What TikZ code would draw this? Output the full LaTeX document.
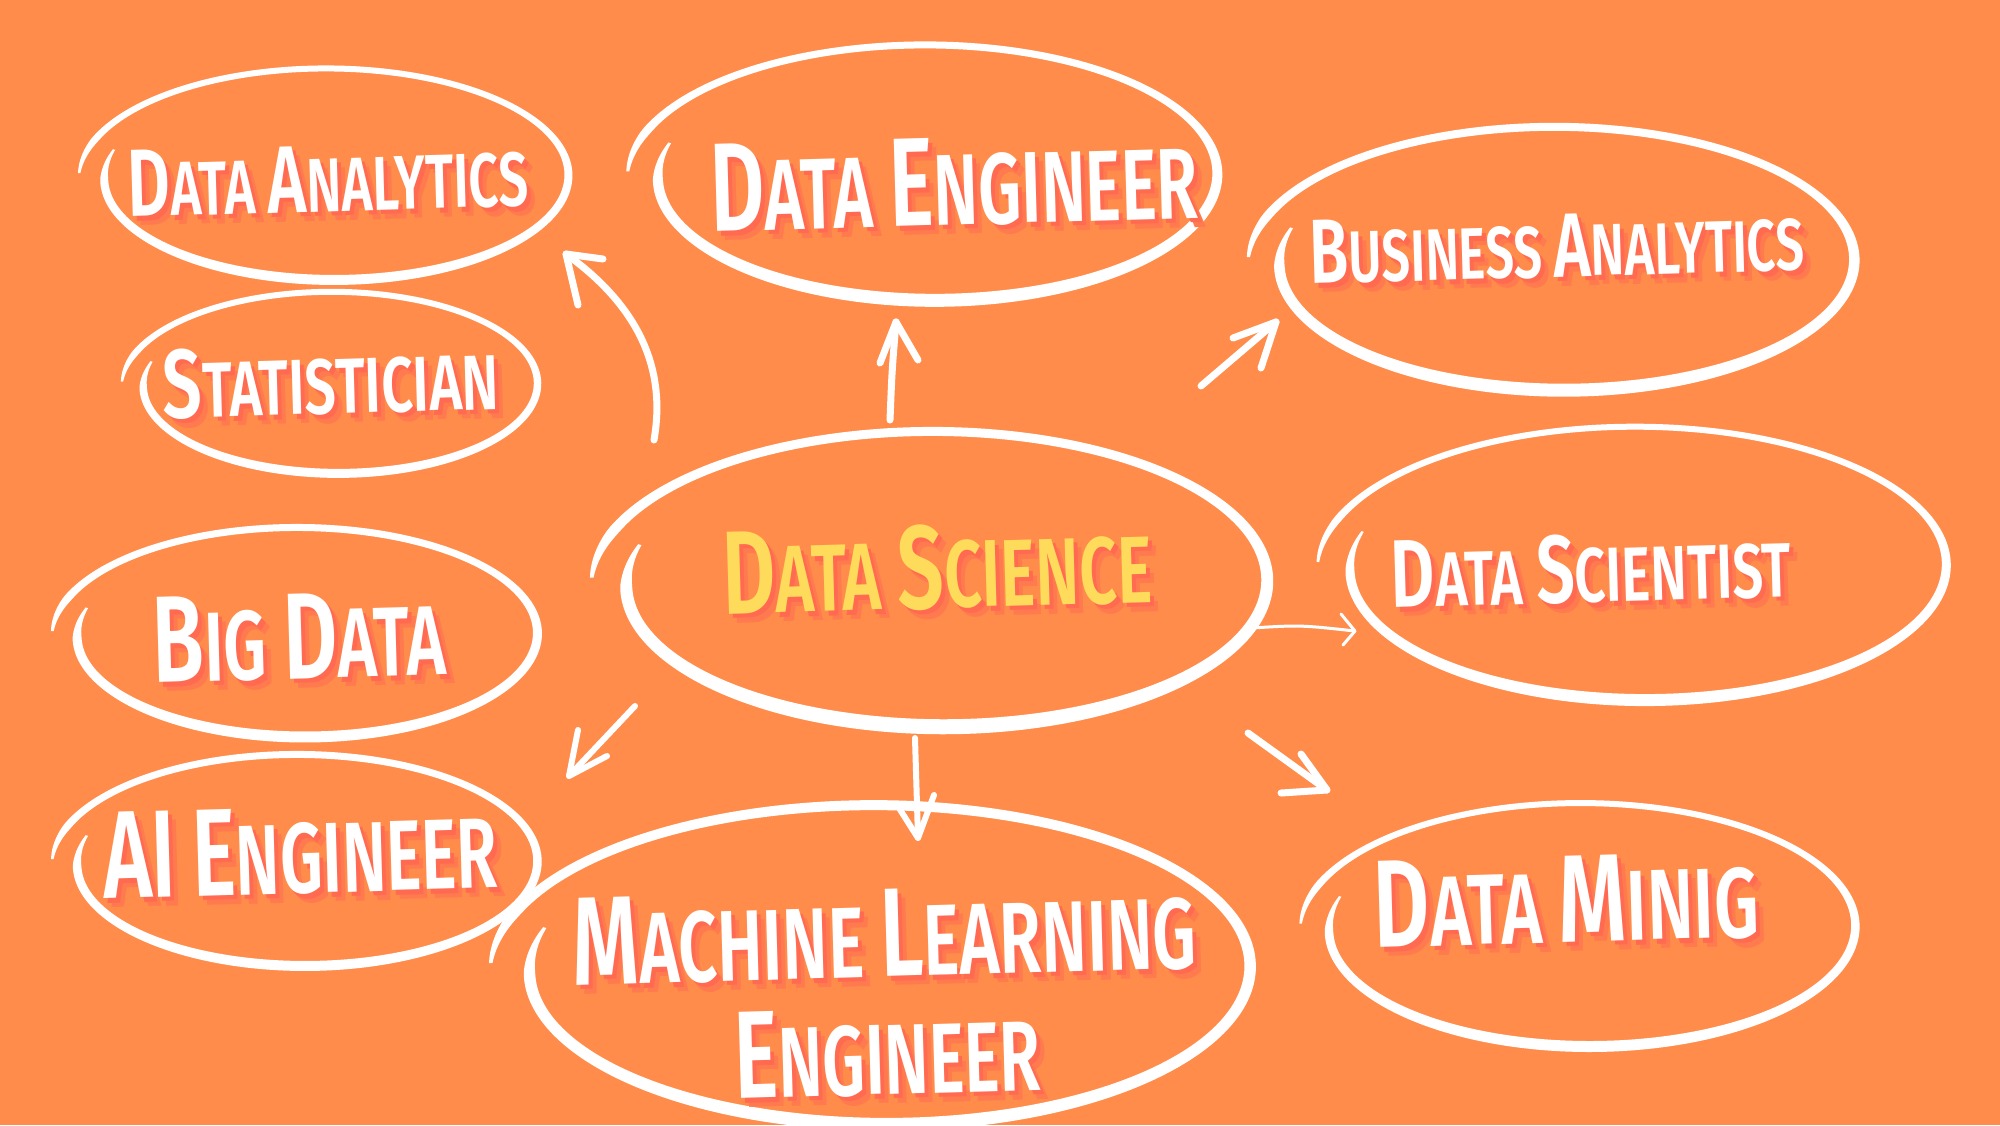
\documentclass[tikz,border=0pt]{standalone}
\usepackage{fontspec}
\setmainfont{Fira Sans}
\newfontfamily\lblfont{Fira Sans SemiBold}
\usepackage{graphicx}
\definecolor{bg}{RGB}{255,140,75}
\definecolor{ylw}{RGB}{255,219,92}
\definecolor{shA}{RGB}{255,106,80}
\definecolor{shB}{RGB}{255,122,78}
\newcommand\B[1]{{\fontsize{10}{12}\selectfont #1}}
% name, x, y, width, height, content, colour
\newcommand\lab[7]{%
  \node[txt,text=shB] (#1-s2) at ({#2+8},{#3+9}) {\resizebox{#4pt}{#5pt}{\lblfont\fontsize{8}{10}\selectfont #6}};
  \node[txt,text=shA] (#1-s1) at ({#2+4},{#3+4.5}) {\resizebox{#4pt}{#5pt}{\lblfont\fontsize{8}{10}\selectfont #6}};
  \node[txt,text=#7] (#1) at (#2,#3) {\resizebox{#4pt}{#5pt}{\lblfont\fontsize{8}{10}\selectfont #6}};}
% hand drawn ellipse: cx, cy, rx, ry, top width, bottom width
\newcommand\hell[6]{%
  \fill[white] plot[domain=196:-178,samples=160,smooth,variable=\t]
   ({#1+(#3*rf(\t)+hw(\t,#5,#6))*cos(\t)},{#2+(#4*rf(\t)+hw(\t,#5,#6))*sin(\t)})
   -- plot[domain=-178:196,samples=160,smooth,variable=\t]
   ({#1+(#3*rf(\t)-hw(\t,#5,#6))*cos(\t)},{#2+(#4*rf(\t)-hw(\t,#5,#6))*sin(\t)}) -- cycle;}
\begin{document}
\begin{tikzpicture}[x=1pt,y=-1pt,
  declare function={rf(\t)=0.94+0.11*(196-\t)/374;
    hw(\t,\a,\b)=0.5*(\a+(\b-\a)*(1+sin(\t))/2)*min(1,0.3+(196-\t)/25,0.3+(\t+178)/25);},
  txt/.style={inner sep=0pt,outer sep=0pt,rotate=1.6},
  arr/.style={draw=white,line width=7pt,line cap=round,line join=round},
  thinarr/.style={draw=white,line width=3pt,line cap=round,line join=round}]
\useasboundingbox (0,0) rectangle (2000,1125);
\fill[bg] (0,0) rectangle (2000,1125);

% ellipses
\hell{330}{177}{239}{106}{6}{10}   % Data Analytics
\hell{930}{176}{288}{128}{7}{13}   % Data Engineer
\hell{335}{385}{203}{91}{6}{9}     % Statistician
\hell{1559}{262}{296}{132}{8}{13}  % Business Analytics
\hell{938}{583}{330}{148}{9}{15}   % Data Science
\hell{301}{635}{237}{105}{7}{11}   % Big Data
\hell{301}{863}{237}{106}{7}{10}   % AI Engineer
\hell{880}{969}{371}{160}{10}{13}  % Machine Learning Engineer
\hell{1640}{567}{307}{137}{6}{12}  % Data Scientist
\hell{1585}{928}{271}{122}{6}{11}  % Data Minig

% connectors
\coordinate (a1s) at (654,440); \coordinate (a1t) at (566,254);
\coordinate (a1b) at (578,305); \coordinate (a1c) at (603,259);
\draw[arr] (a1s) .. controls (668,360) and (630,300) .. (a1t);
\draw[arr] (a1b) -- (a1t) -- (a1c);

\coordinate (a2s) at (890,420); \coordinate (a2t) at (896,322);
\coordinate (a2b) at (880,363); \coordinate (a2c) at (918,360);
\draw[arr] (a2s) .. controls (892,370) .. (a2t);
\draw[arr] (a2b) -- (a2t) -- (a2c);

\coordinate (a3s) at (1201,386); \coordinate (a3t) at (1276,322);
\coordinate (a3b) at (1233,338); \coordinate (a3c) at (1261,368);
\draw[arr] (a3s) -- (a3t);
\draw[arr] (a3b) -- (a3t) -- (a3c);

\coordinate (a4s) at (1252,628); \coordinate (a4t) at (1355,631);
\coordinate (a4b) at (1341,614); \coordinate (a4c) at (1343,645);
\draw[thinarr] (a4s) .. controls (1300,625) .. (a4t);
\draw[thinarr] (a4b) -- (a4t) -- (a4c);

\coordinate (a5s) at (1248,733); \coordinate (a5t) at (1327,790);
\coordinate (a5b) at (1301,754); \coordinate (a5c) at (1281,793);
\draw[arr] (a5s) -- (a5t);
\draw[arr] (a5b) -- (a5t) -- (a5c);

\coordinate (a6s) at (915,738); \coordinate (a6t) at (918,838);
\coordinate (a6b) at (899,808); \coordinate (a6c) at (934,795);
\draw[arr,line width=6pt] (a6s) -- (a6t);
\draw[arr,line width=6pt] (a6b) -- (a6t) -- (a6c);

\coordinate (a7s) at (635,706); \coordinate (a7t) at (569,776);
\coordinate (a7b) at (578,730); \coordinate (a7c) at (607,756);
\draw[arr,line width=6pt] (a7s) -- (a7t);
\draw[arr,line width=6pt] (a7b) -- (a7t) -- (a7c);

% labels
\lab{da}{328}{179}{400}{66}{\B{D}ATA \B{A}NALYTICS}{white}
\lab{de}{954}{182}{488}{87}{\B{D}ATA \B{E}NGINEER}{white}
\lab{st}{331}{380}{336}{69}{\B{S}TATISTICIAN}{white}
\lab{ba}{1557}{246}{494}{63}{\B{B}USINESS \B{A}NALYTICS}{white}
\lab{ds}{937}{567}{430}{84}{\B{D}ATA \B{S}CIENCE}{ylw}
\lab{bd}{299}{637}{293}{85}{\B{B}IG \B{D}ATA}{white}
\lab{ai}{300}{851}{394}{86}{\B{AI} \B{E}NGINEER}{white}
\lab{mla}{884}{934}{624}{87}{\B{M}ACHINE \B{L}EARNING}{white}
\lab{mlb}{887}{1052}{306}{86}{\B{E}NGINEER}{white}
\lab{dsc}{1591}{569}{400}{68}{\B{D}ATA \B{S}CIENTIST}{white}
\lab{dm}{1566}{900}{385}{86}{\B{D}ATA \B{M}INIG}{white}
\end{tikzpicture}
\end{document}
